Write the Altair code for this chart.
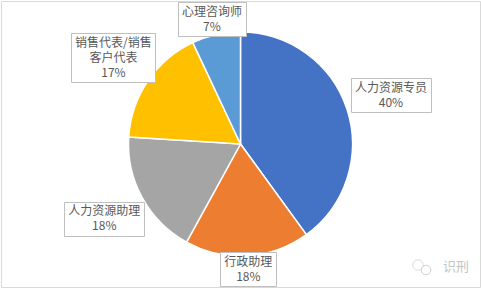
import altair as alt
import pandas as pd

# ---- data ----
categories = ["人力资源专员", "行政助理", "人力资源助理", "销售代表/销售客户代表", "心理咨询师"]
label_lines = ["人力资源专员", "行政助理", "人力资源助理", "销售代表/销售\n客户代表", "心理咨询师"]
values = [40, 18, 18, 17, 7]
colors = ["#4472C4", "#ED7D31", "#A5A5A5", "#FFC000", "#5B9BD5"]

# ---- layout ----
W, H = 479, 286
CX, CY = W / 2, H / 2
R = 112
FONT = "Noto Sans CJK SC"
FS = 12
LH = 15


def text_width(s):
    return sum(FS if ord(c) > 255 else (4.5 if c == "/" else 6.8) for c in s)


rows = []
for i, (c, l, v) in enumerate(zip(categories, label_lines, values)):
    txt = f"{l}\n{v}%"
    lines = txt.split("\n")
    bw = round(max(text_width(s) for s in lines) + 8)
    bh = LH * len(lines) + 4
    rows.append(dict(cat=c, value=v, order=i, txt=txt, nl=len(lines), bw=bw, bh=bh))
df = pd.DataFrame(rows)

base = alt.Chart(df)

arcs = base.mark_arc(outerRadius=R, stroke="white", strokeWidth=1.5).encode(
    theta=alt.Theta("value:Q", stack=True),
    order=alt.Order("order:Q"),
    color=alt.Color("cat:N", scale=alt.Scale(domain=categories, range=colors), legend=None),
)

lab = (
    base.transform_joinaggregate(total="sum(value)")
    .transform_window(cum="sum(value)", sort=[alt.SortField("order")], frame=[None, 0])
    .transform_calculate(mid="(datum.cum - datum.value/2) / datum.total * 2 * PI")
    .transform_calculate(lr="123 + 37 * abs(sin(datum.mid))")
    .transform_calculate(
        lx=f"{CX} + datum.lr * sin(datum.mid)",
        ly0=f"{CY} - datum.lr * cos(datum.mid)",
    )
    .transform_calculate(ly=f"clamp(datum.ly0, datum.bh/2 + 1, {H} - datum.bh/2 - 1)")
    .transform_calculate(
        x1="round(datum.lx - datum.bw/2) + 0.5",
        x2="round(datum.lx + datum.bw/2) + 0.5",
        y1="round(datum.ly - datum.bh/2) + 0.5",
        y2="round(datum.ly + datum.bh/2) + 0.5",
        ty=f"datum.ly - (datum.nl - 1) * {LH} / 2",
    )
)

boxes = lab.mark_rect(fill="white", stroke="#BFBFBF", strokeWidth=1).encode(
    x=alt.X("x1:Q", scale=None, axis=None),
    x2="x2:Q",
    y=alt.Y("y1:Q", scale=None, axis=None),
    y2="y2:Q",
)

texts = lab.mark_text(
    lineBreak="\n", font=FONT, fontSize=FS, lineHeight=LH, color="#595959",
    align="center", baseline="middle",
).encode(
    x=alt.X("lx:Q", scale=None, axis=None),
    y=alt.Y("ty:Q", scale=None, axis=None),
    text="txt:N",
)

# watermark
wm_df = pd.DataFrame({"t": ["识刑"]})
wm_text = alt.Chart(wm_df).mark_text(
    font=FONT, fontSize=13, color="#C4C4C4", align="left", baseline="middle"
).encode(x=alt.value(442), y=alt.value(266), text="t:N")
wm_b1 = alt.Chart(wm_df).mark_point(
    shape="circle", filled=False, stroke="#CFCFCF", strokeWidth=1, size=110
).encode(x=alt.value(417), y=alt.value(264))
wm_b2 = alt.Chart(wm_df).mark_point(
    shape="circle", filled=True, fill="white", stroke="#CFCFCF", strokeWidth=1, size=90, opacity=1
).encode(x=alt.value(425), y=alt.value(269))

chart = (
    alt.layer(arcs, boxes, texts, wm_b1, wm_b2, wm_text)
    .properties(width=W, height=H, padding=1, autosize="none", background="white")
    .configure_view(stroke="#D9D9D9", strokeWidth=1)
)

chart.save("out.html", embed_options={"renderer": "svg", "actions": False})
